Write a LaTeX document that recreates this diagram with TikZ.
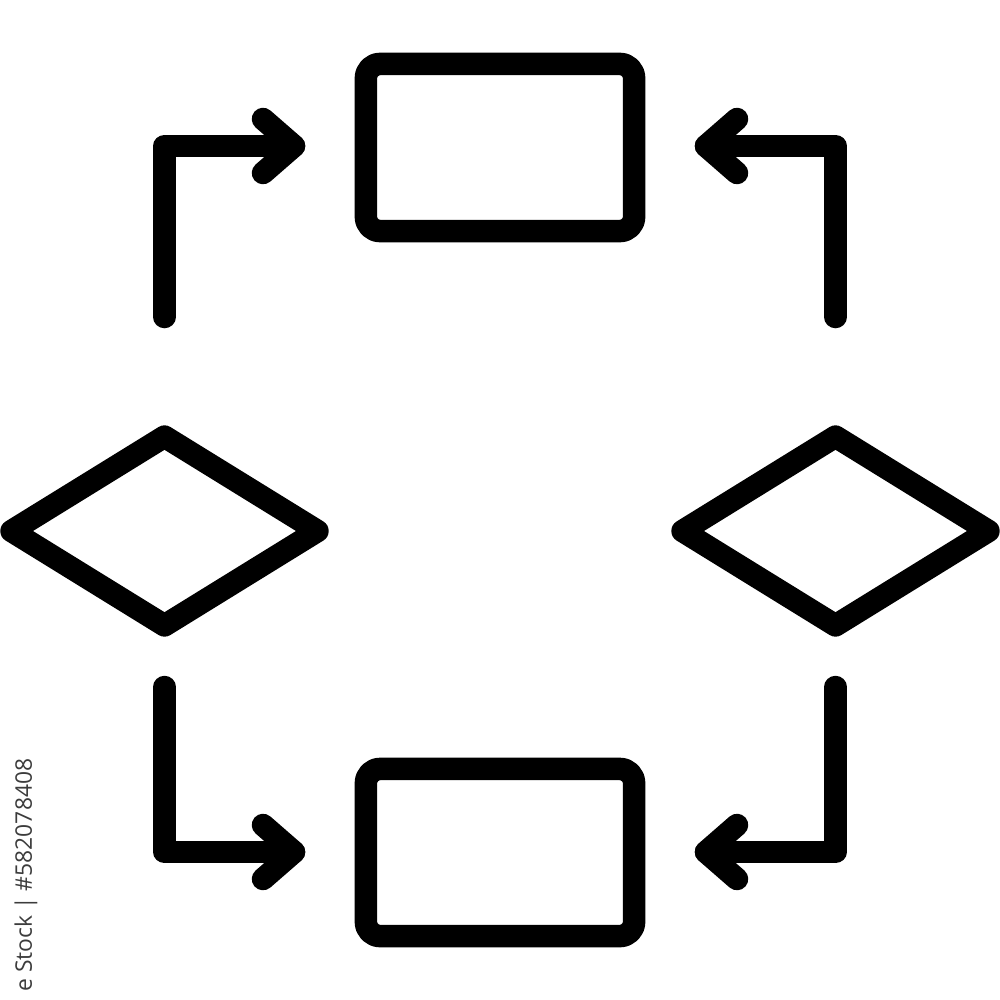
\documentclass[tikz,border=0pt]{standalone}
\usepackage{fontspec}
\newfontfamily\wmfont{Open Sans}
\usetikzlibrary{shapes.geometric,calc}
\definecolor{wmgray}{HTML}{3C3C3C}
\tikzset{
  icon/.style={draw=black, line width=0.225cm, line join=round, line cap=round},
  boxnode/.style={icon, rectangle, rounded corners=0.14cm, minimum width=2.68cm, minimum height=1.67cm, inner sep=0pt},
  decision/.style={icon, diamond, minimum width=3.15cm, minimum height=1.98cm, inner sep=0pt},
  flow/.style={icon, fill=none}
}
\begin{document}
\begin{tikzpicture}[x=0.01cm, y=-0.01cm]
\path[use as bounding box, fill=white] (0,0) rectangle (1000,1000);
\begin{scope}
\clip (0,0) rectangle (1000,1000);
% boxes
\node[boxnode] (top) at (500,147.5) {};
\node[boxnode] (bot) at (500,852.5) {};
% diamonds
\node[decision] (dl) at (164.5,531) {};
\node[decision] (dr) at (835.5,531) {};
% connector coordinates
\coordinate (tlS) at (164.5,317);
\coordinate (tlC) at (164.5,146);
\coordinate (tlT) at (294,146);
\coordinate (trS) at (835.5,317);
\coordinate (trC) at (835.5,146);
\coordinate (trT) at (706,146);
\coordinate (blS) at (164.5,687);
\coordinate (blC) at (164.5,852);
\coordinate (blT) at (294,852);
\coordinate (brS) at (835.5,687);
\coordinate (brC) at (835.5,852);
\coordinate (brT) at (706,852);
% connectors
\draw[flow] (tlS) -- (tlC) -- (tlT);
\draw[flow] ($(tlT)+(-31,-27)$) -- (tlT) -- ($(tlT)+(-31,27)$);
\draw[flow] (trS) -- (trC) -- (trT);
\draw[flow] ($(trT)+(31,-27)$) -- (trT) -- ($(trT)+(31,27)$);
\draw[flow] (blS) -- (blC) -- (blT);
\draw[flow] ($(blT)+(-31,-27)$) -- (blT) -- ($(blT)+(-31,27)$);
\draw[flow] (brS) -- (brC) -- (brT);
\draw[flow] ($(brT)+(31,-27)$) -- (brT) -- ($(brT)+(31,27)$);
% watermark id
\node[rotate=90, anchor=east, inner sep=0pt, text=wmgray, font=\wmfont\fontsize{6.5pt}{7pt}\selectfont] (wm) at (26,758) {e Stock | \#582078408};
\end{scope}
\end{tikzpicture}
\end{document}
